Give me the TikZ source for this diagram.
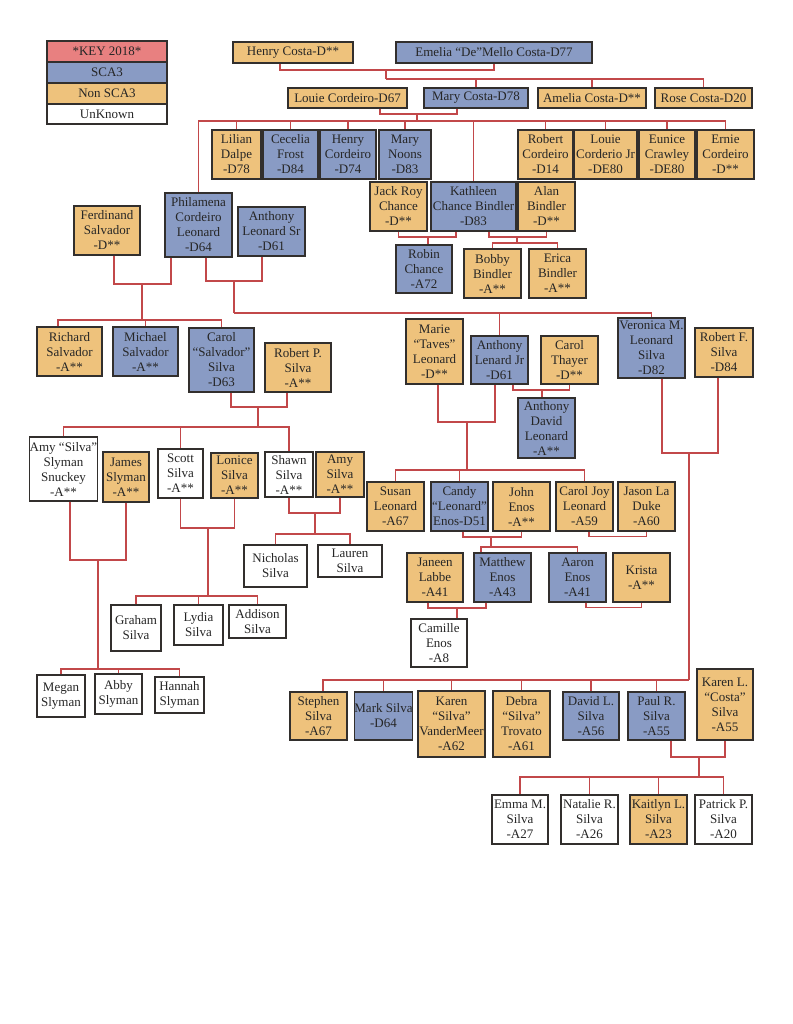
\documentclass[tikz,border=0pt]{standalone}
\usepackage{fontspec}
\setmainfont{Liberation Serif}
\definecolor{scablue}{RGB}{137, 155, 196}
\definecolor{nonorange}{RGB}{238, 194, 124}
\definecolor{keypink}{RGB}{232, 128, 128}
\definecolor{boxline}{RGB}{50, 47, 45}
\definecolor{linkred}{RGB}{194, 72, 74}
\definecolor{textcol}{RGB}{38, 38, 38}
\usepackage{tikz}

\tikzset{
  person/.style={draw=boxline, line width=1.4pt, align=center, inner sep=0pt,
    text=textcol, font=\fontsize{13}{15}\selectfont},
  sca/.style={person, fill=scablue},
  non/.style={person, fill=nonorange},
  unk/.style={person, fill=white},
  keyhead/.style={person, fill=keypink},
  sz/.style 2 args={minimum width=#1, minimum height=#2},
  link/.style={draw=linkred, line width=1.4pt},
}

\begin{document}
\begin{tikzpicture}[x=1pt, y=-1pt]
        \useasboundingbox (0,0) rectangle (792,1024);

        % Key
        \node[keyhead, sz={120}{21}] (key1) at (107,51.5) {*KEY 2018*};
        \node[sca, sz={120}{21}] (key2) at (107,72.5) {SCA3};
        \node[non, sz={120}{21}] (key3) at (107,93.5) {Non SCA3};
        \node[unk, sz={120}{20}] (key4) at (107,114) {UnKnown};

        % Costa grandparents and children
        \node[non, sz={120}{21}] (henry) at (293,52.5) {Henry Costa-D**};
        \node[sca, sz={196}{21}] (emelia) at (494,52.5) {Emelia “De”Mello Costa-D77};
        \node[non, sz={119}{20}] (louie) at (347.5,98) {Louie Cordeiro-D67};
        \node[sca, sz={104}{20}] (mary) at (476,98) {Mary Costa-D78};
        \node[non, sz={108}{20}] (amelia) at (592,98) {Amelia Costa-D**};
        \node[non, sz={97}{20}] (rose) at (703.5,98) {Rose Costa-D20};

        \coordinate (hej) at (386,70);
        \coordinate (heb) at (386,79);
        \draw[link] ([xshift=-13]henry.south) |- (hej) -| (emelia.south);
        \draw[link] (hej) -- (heb);
        \draw[link] (mary.north) |- (heb) -| (rose.north);
        \draw[link] (heb -| amelia.north) -- (amelia.north);

        % Cordeiro children
        \node[non, sz={49}{49}] (lilian) at (236.5,154.5) {Lilian\\Dalpe\\-D78};
        \node[sca, sz={55}{49}] (cecelia) at (290.5,154.5) {Cecelia\\Frost\\-D84};
        \node[sca, sz={56}{49}] (henryc) at (348,154.5) {Henry\\Cordeiro\\-D74};
        \node[sca, sz={52}{49}] (marynoons) at (405,154.5) {Mary\\Noons\\-D83};
        \node[non, sz={55}{49}] (robertc) at (545.5,154.5) {Robert\\Cordeiro\\-D14};
        \node[non, sz={63}{49}] (louiejr) at (605.5,154.5) {Louie\\Corderio Jr\\-DE80};
        \node[non, sz={56}{49}] (eunice) at (667,154.5) {Eunice\\Crawley\\-DE80};
        \node[non, sz={57}{49}] (ernie) at (725.5,154.5) {Ernie\\Cordeiro\\-D**};
        \node[non, sz={57}{49}] (jackroy) at (398.5,206.5) {Jack Roy\\Chance\\-D**};
        \node[sca, sz={85}{49}] (kathleen) at (473.5,206.5) {Kathleen\\Chance Bindler\\-D83};
        \node[non, sz={57}{49}] (alan) at (546.5,206.5) {Alan\\Bindler\\-D**};
        \node[sca, sz={67}{64}] (philamena) at (198.5,225) {Philamena\\Cordeiro\\Leonard\\-D64};

        \coordinate (lmj) at (417,114);
        \coordinate (lmb) at (417,121);
        \draw[link] ([xshift=32.5]louie.south) |- (lmj) -| ([xshift=-19]mary.south);
        \draw[link] (lmj) -- (lmb);
        \draw[link] (philamena.north) |- (lmb) -| (ernie.north);
        \foreach \c in {lilian,cecelia,henryc,marynoons,kathleen,robertc,louiejr,eunice}
          \draw[link] (lmb -| \c.north) -- (\c.north);

        % Chance and Bindler
        \node[sca, sz={56}{48}] (robin) at (424,269) {Robin\\Chance\\-A72};
        \node[non, sz={57}{49}] (bobby) at (492.5,273.5) {Bobby\\Bindler\\-A**};
        \node[non, sz={57}{49}] (erica) at (557.5,273.5) {Erica\\Bindler\\-A**};

        \coordinate (jkj) at (428,237);
        \draw[link] (jackroy.south) |- (jkj) -| ([xshift=-17.5]kathleen.south);
        \draw[link] (jkj) -- (jkj |- robin.north);
        \coordinate (kaj) at (517,237);
        \coordinate (kab) at (517,243);
        \draw[link] ([xshift=15.5]kathleen.south) |- (kaj) -| (alan.south);
        \draw[link] (kaj) -- (kab);
        \draw[link] (bobby.north) |- (kab) -| (erica.north);

        % Salvador and Leonard Sr
        \node[non, sz={66}{49}] (ferdinand) at (107,230.5) {Ferdinand\\Salvador\\-D**};
        \node[sca, sz={67}{49}] (anthonysr) at (271.5,231.5) {Anthony\\Leonard Sr\\-D61};
        \node[non, sz={65}{49}] (richard) at (69.5,351.5) {Richard\\Salvador\\-A**};
        \node[sca, sz={65}{49}] (michael) at (145.5,351.5) {Michael\\Salvador\\-A**};
        \node[sca, sz={65}{64}] (carol) at (221.5,360) {Carol\\“Salvador”\\Silva\\-D63};
        \node[non, sz={66}{49}] (robertp) at (298,367.5) {Robert P.\\Silva\\-A**};

        \coordinate (fpj) at (142,284);
        \coordinate (fpb) at (142,320);
        \draw[link] ([xshift=7]ferdinand.south) |- (fpj) -| ([xshift=-27.5]philamena.south);
        \draw[link] (fpj) -- (fpb);
        \draw[link] ([xshift=-11.5]richard.north) |- (fpb) -| (carol.north);
        \draw[link] (fpb -| michael.north) -- (michael.north);

        % Silva children of Carol
        \node[unk, sz={63}{64}] (amyss) at (63.5,469) {Amy “Silva”\\Slyman\\Snuckey\\-A**};
        \node[non, sz={46}{50}] (james) at (126,477) {James\\Slyman\\-A**};
        \node[unk, sz={45}{49}] (scott) at (180.5,473.5) {Scott\\Silva\\-A**};
        \node[non, sz={47}{45}] (lonice) at (234.5,475.5) {Lonice\\Silva\\-A**};
        \node[unk, sz={48}{45}] (shawn) at (289,474.5) {Shawn\\Silva\\-A**};
        \node[non, sz={48}{45}] (amys) at (340,474.5) {Amy\\Silva\\-A**};

        \coordinate (crj) at (258,407);
        \coordinate (crb) at (258,427);
        \draw[link] ([xshift=9.5]carol.south) |- (crj) -| ([xshift=-11]robertp.south);
        \draw[link] (crj) -- (crb);
        \draw[link] (amyss.north) |- (crb) -| (shawn.north);
        \draw[link] (crb -| scott.north) -- (scott.north);

        % grandchildren of Carol
        \node[unk, sz={63}{42}] (nicholas) at (275.5,566) {Nicholas\\Silva};
        \node[unk, sz={64}{32}] (lauren) at (350,561) {Lauren\\Silva};
        \node[unk, sz={50}{46}] (graham) at (136,628) {Graham\\Silva};
        \node[unk, sz={49}{40}] (lydia) at (198.5,625) {Lydia\\Silva};
        \node[unk, sz={57}{33}] (addison) at (257.5,621.5) {Addison\\Silva};
        \node[unk, sz={48}{42}] (megan) at (61,696) {Megan\\Slyman};
        \node[unk, sz={47}{40}] (abby) at (118.5,694) {Abby\\Slyman};
        \node[unk, sz={49}{36}] (hannah) at (179.5,695) {Hannah\\Slyman};

        \coordinate (saj) at (315,513);
        \coordinate (sab) at (315,534);
        \draw[link] (shawn.south) |- (saj) -| (amys.south);
        \draw[link] (saj) -- (sab);
        \draw[link] (nicholas.north) |- (sab) -| (lauren.north);
        \coordinate (slj) at (208,528);
        \coordinate (slb) at (208,596);
        \draw[link] (scott.south) |- (slj) -| (lonice.south);
        \draw[link] (slj) -- (slb);
        \draw[link] (graham.north) |- (slb) -| (addison.north);
        \draw[link] (slb -| lydia.north) -- (lydia.north);
        \coordinate (ajj) at (98,560);
        \coordinate (ajb) at (98,669);
        \draw[link] ([xshift=6.5]amyss.south) |- (ajj) -| (james.south);
        \draw[link] (ajj) -- (ajb);
        \draw[link] (megan.north) |- (ajb) -| (hannah.north);
        \draw[link] (ajb -| abby.north) -- (abby.north);

        % Leonard children
        \node[non, sz={57}{65}] (marie) at (434.5,351.5) {Marie\\“Taves”\\Leonard\\-D**};
        \node[sca, sz={57}{48}] (anthonyjr) at (499.5,360) {Anthony\\Lenard Jr\\-D61};
        \node[non, sz={57}{48}] (carolt) at (569.5,360) {Carol\\Thayer\\-D**};
        \node[sca, sz={57}{60}] (anthonyd) at (546.5,428) {Anthony\\David\\Leonard\\-A**};
        \node[sca, sz={67}{60}] (veronica) at (651.5,348) {Veronica M.\\Leonard\\Silva\\-D82};
        \node[non, sz={58}{49}] (robertf) at (724,352.5) {Robert F.\\Silva\\-D84};

        \coordinate (paj) at (234,281);
        \coordinate (pab) at (234,313);
        \draw[link] ([xshift=7.5]philamena.south) |- (paj) -| ([xshift=-9.5]anthonysr.south);
        \draw[link] (paj) -- (pab);
        \draw[link] (pab) -| (veronica.north);
        \draw[link] (pab -| anthonyjr.north) -- (anthonyjr.north);
        \coordinate (atj) at (542,390);
        \draw[link] ([xshift=13.5]anthonyjr.south) |- (atj) -| (carolt.south);
        \draw[link] (atj) -- (atj |- anthonyd.north);

        % Enos and Leonard grandchildren
        \node[non, sz={57}{49}] (susan) at (395.5,506.5) {Susan\\Leonard\\-A67};
        \node[sca, sz={57}{49}] (candy) at (459.5,506.5) {Candy\\“Leonard”\\Enos-D51};
        \node[non, sz={57}{49}] (john) at (521.5,506.5) {John\\Enos\\-A**};
        \node[non, sz={57}{49}] (caroljoy) at (584.5,506.5) {Carol Joy\\Leonard\\-A59};
        \node[non, sz={57}{49}] (jason) at (646.5,506.5) {Jason La\\Duke\\-A60};
        \node[non, sz={56}{49}] (janeen) at (435,577.5) {Janeen\\Labbe\\-A41};
        \node[sca, sz={57}{49}] (matthew) at (502.5,577.5) {Matthew\\Enos\\-A43};
        \node[sca, sz={57}{49}] (aaron) at (577.5,577.5) {Aaron\\Enos\\-A41};
        \node[non, sz={57}{49}] (krista) at (641.5,577.5) {Krista\\-A**};
        \node[unk, sz={56}{48}] (camille) at (439,643) {Camille\\Enos\\-A8};

        \coordinate (maj) at (467,422);
        \coordinate (mab) at (467,470);
        \draw[link] ([xshift=3.5]marie.south) |- (maj) -| ([xshift=-4.5]anthonyjr.south);
        \draw[link] (maj) -- (mab);
        \draw[link] (susan.north) |- (mab) -| (caroljoy.north);
        \draw[link] (mab -| candy.north) -- (candy.north);
        \coordinate (cjj) at (491,537);
        \coordinate (cjb) at (491,547);
        \draw[link] ([xshift=3.5]candy.south) |- (cjj) -| (john.south);
        \draw[link] (cjj) -- (cjb);
        \draw[link] ([xshift=-21.5]matthew.north) |- (cjb) -| (aaron.north);
        \draw[link] ([xshift=4.5]caroljoy.south) -- ++(0,5) -| (jason.south);
        \coordinate (jmj) at (457,608);
        \draw[link] ([xshift=-7]janeen.south) |- (jmj) -| ([xshift=-16.5]matthew.south);
        \draw[link] (jmj) -- (jmj |- camille.north);
        \draw[link] ([xshift=8.5]aaron.south) -- ++(0,5) -| (krista.south);

        % Silva children of Veronica
        \node[non, sz={57}{48}] (stephen) at (318.5,716) {Stephen\\Silva\\-A67};
        \node[sca, sz={57}{48}] (mark) at (383.5,716) {Mark Silva\\-D64};
        \node[non, sz={67}{66}] (karenv) at (451.5,724) {Karen\\“Silva”\\VanderMeer\\-A62};
        \node[non, sz={57}{66}] (debra) at (521.5,724) {Debra\\“Silva”\\Trovato\\-A61};
        \node[sca, sz={56}{48}] (david) at (591,716) {David L.\\Silva\\-A56};
        \node[sca, sz={57}{48}] (paul) at (656.5,716) {Paul R.\\Silva\\-A55};
        \node[non, sz={56}{71}] (karenl) at (725,704.5) {Karen L.\\“Costa”\\Silva\\-A55};

        \coordinate (vrj) at (689,453);
        \coordinate (vrb) at (689,680);
        \draw[link] ([xshift=10.5]veronica.south) |- (vrj) -| ([xshift=-6]robertf.south);
        \draw[link] (vrj) -- (vrb);
        \draw[link] ([xshift=4.5]stephen.north) |- (vrb);
        \foreach \c in {mark,karenv,debra,david,paul}
          \draw[link] (vrb -| \c.north) -- (\c.north);

        % Silva grandchildren
        \node[unk, sz={56}{49}] (emma) at (520,819.5) {Emma M.\\Silva\\-A27};
        \node[unk, sz={57}{49}] (natalie) at (589.5,819.5) {Natalie R.\\Silva\\-A26};
        \node[non, sz={57}{49}] (kaitlyn) at (658.5,819.5) {Kaitlyn L.\\Silva\\-A23};
        \node[unk, sz={57}{49}] (patrick) at (723.5,819.5) {Patrick P.\\Silva\\-A20};

        \coordinate (pkj) at (699,757);
        \coordinate (pkb) at (699,777);
        \draw[link] ([xshift=14.5]paul.south) |- (pkj) -| (karenl.south);
        \draw[link] (pkj) -- (pkb);
        \draw[link] (emma.north) |- (pkb) -| (patrick.north);
        \foreach \c in {natalie,kaitlyn}
          \draw[link] (pkb -| \c.north) -- (\c.north);
\end{tikzpicture}
\end{document}
